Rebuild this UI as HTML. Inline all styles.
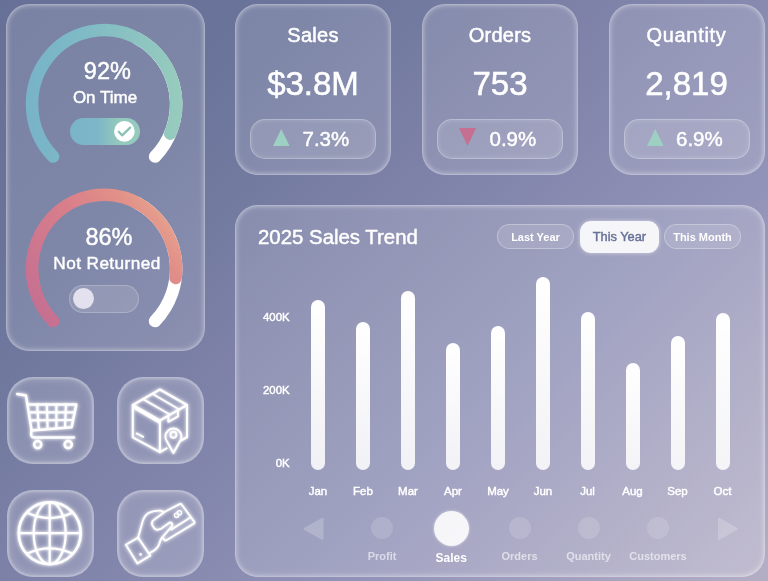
<!DOCTYPE html>
<html lang="en">
<head>
<meta charset="utf-8">
<title>Sales Dashboard</title>
<style>
*{box-sizing:border-box;margin:0;padding:0}
html,body{width:768px;height:581px;overflow:hidden}
body{position:relative;font-family:"Liberation Sans",sans-serif;color:#fff;-webkit-text-stroke-width:.3px;
 background:linear-gradient(135deg,#677096 0%,#6a749a 19%,#71799f 30%,#7d81a7 43%,#9293b8 70%,#b4aec5 100%);}
.glass{position:absolute;background:rgba(255,255,255,.13);border:1.5px solid rgba(255,255,255,.34);
 box-shadow:inset 0 0 4px rgba(255,255,255,.4),inset 0 0 9px rgba(255,255,255,.12);border-radius:23px}
.abs{position:absolute}
.c{text-align:center;white-space:nowrap;-webkit-text-stroke-width:.45px}
.tile{border-radius:26px;background:rgba(255,255,255,.16);box-shadow:inset 0 0 3px rgba(255,255,255,.5),inset 0 0 9px rgba(255,255,255,.3)}
.kt{-webkit-text-stroke-width:.5px;letter-spacing:.25px;position:absolute;left:0;width:100%;text-align:center;font-size:20px;top:18.3px;line-height:24px}
.kv{-webkit-text-stroke-width:.55px;position:absolute;left:0;width:100%;text-align:center;font-size:33px;top:59px;line-height:40px}
.pill{position:absolute;left:14px;top:113.5px;width:126px;height:40px;border-radius:15px;background:rgba(255,255,255,.12);
 border:1.5px solid rgba(255,255,255,.3);box-shadow:inset 0 0 5px rgba(255,255,255,.2)}
.pill span{-webkit-text-stroke-width:.45px;position:absolute;left:51.5px;top:7px;font-size:20.5px;line-height:24px}
.pill svg{position:absolute;left:21.5px;top:10px}
.btn{position:absolute;height:25px;top:224.3px;width:77px;border-radius:12.5px;border:1.5px solid rgba(255,255,255,.3);
 background:rgba(255,255,255,.12);font-size:11px;font-weight:bold;line-height:22px;padding-top:.8px;text-align:center;color:#fff;-webkit-text-stroke-width:0}
.btn.on{top:221px;height:32px;width:78.5px;border-radius:11px;background:rgba(255,255,255,.9);color:#687298;font-size:12.8px;font-weight:normal;line-height:32px;padding-top:.3px;border:none;
 box-shadow:0 0 4px rgba(255,255,255,.55);-webkit-text-stroke-width:.45px}
.bar{position:absolute;width:14px;border-radius:7px;background:linear-gradient(#fff,rgba(255,255,255,.86))}
.ax{-webkit-text-stroke-width:.45px;position:absolute;width:40px;left:249.6px;text-align:right;font-size:11.4px;line-height:14px}
.mo{-webkit-text-stroke-width:.45px;position:absolute;width:40px;text-align:center;font-size:11.5px;line-height:14px;top:484px}
.dot{position:absolute;width:22px;height:22px;border-radius:50%;top:517px;background:rgba(255,255,255,.14)}
.ico{filter:drop-shadow(0 0 1.5px rgba(255,255,255,.9)) drop-shadow(0 0 2.5px rgba(255,255,255,.35))}
.nl{-webkit-text-stroke-width:0;position:absolute;width:80px;text-align:center;font-size:11px;font-weight:bold;line-height:14px;top:549px;color:rgba(255,255,255,.6)}
</style>
</head>
<body>
<!-- left gauge panel -->
<div class="glass" style="left:6px;top:4px;width:198.5px;height:346.5px"></div>
<svg class="abs" style="left:0;top:0" width="210" height="355" viewBox="0 0 210 355">
 <defs>
  <linearGradient id="g1" x1="30" y1="0" x2="180" y2="0" gradientUnits="userSpaceOnUse">
   <stop offset="0" stop-color="#78b3c8"/><stop offset=".35" stop-color="#7fbac6"/><stop offset="1" stop-color="#97cbbd"/>
  </linearGradient>
  <linearGradient id="g2" x1="40" y1="320" x2="175" y2="210" gradientUnits="userSpaceOnUse">
   <stop offset="0" stop-color="#c56f92"/><stop offset=".55" stop-color="#d97f8a"/><stop offset=".8" stop-color="#e29088"/><stop offset="1" stop-color="#e8a890"/>
  </linearGradient>
 </defs>
 <g fill="none" stroke-width="12.5" stroke-linecap="round">
  <path stroke="#fff" d="M136.81 38.22A72.05 74.05 0 0 1 155.05 156.56"/>
  <path stroke="url(#g1)" d="M53.15 156.56A72.05 74.05 0 1 1 170.22 133.61"/>
  <path stroke="#fff" d="M136.81 202.72A72.05 74.05 0 0 1 155.05 321.06"/>
  <path stroke="url(#g2)" d="M53.15 321.06A72.05 74.05 0 1 1 175.58 277.98"/>
 </g>
</svg>
<div class="abs c" style="left:47.4px;width:120px;top:59px;font-size:23.5px;line-height:24px">92%</div>
<div class="abs c" style="left:45px;width:120px;top:88px;font-size:17px;line-height:20px">On Time</div>
<div class="abs" style="left:70px;top:118px;width:70px;height:27px;border-radius:13.5px;background:linear-gradient(90deg,#7ab4c8 0%,#7cb6c7 38%,#93c8bd 68%,#96cabd 100%)"></div>
<svg class="abs" style="left:113px;top:120px" width="23" height="23" viewBox="0 0 23 23"><circle cx="11.4" cy="11.4" r="10.3" fill="#fff"/><path d="M5.8 11.8l3.4 3.6 7.9-7.8" fill="none" stroke="#8bc1b8" stroke-width="2.3" stroke-linecap="round" stroke-linejoin="round"/></svg>

<div class="abs c" style="left:49px;width:120px;top:225px;font-size:23.5px;line-height:24px">86%</div>
<div class="abs c" style="left:37px;width:140px;top:252.5px;font-size:17.2px;letter-spacing:.43px;line-height:20px">Not Returned</div>
<div class="abs" style="left:69px;top:285px;width:70px;height:28px;border-radius:14px;background:rgba(255,255,255,.13);border:1.5px solid rgba(255,255,255,.22)"></div>
<div class="abs" style="left:73.4px;top:288.4px;width:20.8px;height:20.8px;border-radius:50%;background:#e3e1ed"></div>

<!-- icon tiles -->
<div class="glass tile" style="left:6.5px;top:376.5px;width:87px;height:87.5px"></div>
<div class="glass tile" style="left:117px;top:376.5px;width:87px;height:87.5px"></div>
<div class="glass tile" style="left:6.5px;top:489.5px;width:87px;height:87.5px"></div>
<div class="glass tile" style="left:117px;top:489.5px;width:87px;height:87.5px"></div>

<!-- icons -->
<svg class="abs ico" style="left:0;top:370px" width="210" height="211" viewBox="0 370 210 211">
 <g fill="none" stroke="#fff" stroke-width="2.1" stroke-linecap="round" stroke-linejoin="round">
  <!-- cart -->
  <path d="M17.2 394L26 395.6L31.6 430.4" stroke-width="2.5"/>
  <path d="M28 404.4H76.3L71.6 427.2L31.6 430.4Q29.8 437.4 34 437.4H74" stroke-width="2.5"/>
  <path d="M29.4 412.4L74.6 412.4M30.6 420.4L73 420" stroke-width="2.2"/>
  <path d="M37.2 404.4L38.8 429.6M46.8 404.4L47.6 429M56.4 404.4L56.4 428.4M66 404.4L65 427.6" stroke-width="2.2"/>
  <circle cx="37.7" cy="444.6" r="3.6" stroke-width="2.5"/><circle cx="68.2" cy="444.6" r="3.6" stroke-width="2.5"/>
  <!-- box -->
  <path d="M180.8 440.6L187 437.3V405L159.9 389.5L132.8 405V437.3L159.9 452.1L166.6 448.4"/>
  <path d="M132.8 405L159.9 420.5L187 405M159.9 420.5V452.1M134.4 408.2L159.9 422.8" />
  <path d="M143.1 399.1L170.2 414.7M152.8 394L179.3 409.5" stroke-width="1.9"/>
  <path d="M168.3 416V421.8L178 416.4V410.4" stroke-width="1.9"/>
  <path d="M136.6 433.4L143.1 436.8" stroke-width="1.9"/>
  <path d="M173.4 453L167 441.4A8 8 0 1 1 179.8 441.4z" stroke-width="2"/>
  <circle cx="173.4" cy="434.8" r="3" stroke-width="1.9"/>
  <!-- globe -->
  <circle cx="49.7" cy="533.2" r="31" stroke-width="2.6"/>
  <path d="M49.7 502.2V564.2M18.7 533.2H80.7" stroke-width="2.2"/>
  <ellipse cx="49.7" cy="533.2" rx="16" ry="31" stroke-width="2.2"/>
  <path d="M26.6 512.6Q49.7 523.6 72.8 512.6M26.6 553.8Q49.7 542.8 72.8 553.8" stroke-width="2.2"/>
  <!-- hand + card -->
  <path d="M164.3 512L179.6 504.2Q181 503.6 182 505L194.2 521.6Q195 522.8 193.8 523.6L166.4 540.2Q165 541 164.2 539.8L163 538" stroke-width="1.9"/>
  <path d="M189.6 518L171.2 529.6" stroke-width="1.9"/>
  <circle cx="179.4" cy="512.8" r="2.2" stroke-width="1.2"/><circle cx="176.6" cy="515.2" r="2.2" stroke-width="1.2"/>
  <path d="M125.8 544.7L138.1 537.6L150.3 555.6L137.4 563.4z" stroke-width="1.9"/>
  <path d="M138.1 537.6L142.6 521.6Q144.4 514.8 150 512.4Q155.4 510.2 161 510.8L164.3 512.2L154 519.8Q150.6 522.4 152.6 525.8L154.4 528.4Q155.8 530.2 158.2 529.6L161.4 528.6L168.4 523.4Q170.8 521.8 172 523.4Q173 524.8 171.6 526.6L161.8 537.8Q160.4 540 159.4 543.4Q157.6 549.4 149.6 553" stroke-width="1.9"/>
  <circle cx="140.6" cy="554.4" r="0.8" stroke-width="1.3"/>
 </g>
</svg>

<!-- KPI cards -->
<div class="glass" style="left:235px;top:4px;width:156px;height:170.5px">
 <div class="kt">Sales</div><div class="kv">$3.8M</div>
 <div class="pill"><svg style="left:22.2px;top:9.8px" width="17" height="18" viewBox="0 0 17 18"><path d="M8.3 0L16.6 17H0z" fill="#9dd0c2"/></svg><span>7.3%</span></div>
</div>
<div class="glass" style="left:422px;top:4px;width:156px;height:170.5px">
 <div class="kt">Orders</div><div class="kv">753</div>
 <div class="pill"><svg style="left:21.3px;top:8.9px" width="18" height="18" viewBox="0 0 18 18"><path d="M8.55 18L17.1 0H0z" fill="#c57092"/></svg><span>0.9%</span></div>
</div>
<div class="glass" style="left:608.5px;top:4px;width:156px;height:170.5px">
 <div class="kt" style="letter-spacing:.7px">Quantity</div><div class="kv">2,819</div>
 <div class="pill"><svg style="left:22.2px;top:9.8px" width="17" height="18" viewBox="0 0 17 18"><path d="M8.3 0L16.6 17H0z" fill="#9dd0c2"/></svg><span>6.9%</span></div>
</div>

<!-- chart -->
<div class="glass" style="left:235px;top:205px;width:529.5px;height:372.3px;background:linear-gradient(135deg,rgba(255,255,255,.14),rgba(255,255,255,.19))"></div>
<div class="abs" style="left:258px;top:225.4px;font-size:20.4px;line-height:24px;white-space:nowrap;-webkit-text-stroke-width:.45px">2025 Sales Trend</div>
<div class="btn" style="left:497px">Last Year</div>
<div class="btn on" style="left:580.2px">This Year</div>
<div class="btn" style="left:664px">This Month</div>

<div class="ax" style="top:310px">400K</div>
<div class="ax" style="top:383px">200K</div>
<div class="ax" style="top:456px">0K</div>

<div class="bar" style="left:311px;top:300px;height:169.5px"></div>
<div class="bar" style="left:356px;top:321.5px;height:148px"></div>
<div class="bar" style="left:401px;top:291px;height:178.5px"></div>
<div class="bar" style="left:446px;top:343px;height:126.5px"></div>
<div class="bar" style="left:491px;top:326px;height:143.5px"></div>
<div class="bar" style="left:536px;top:277px;height:192.5px"></div>
<div class="bar" style="left:580.5px;top:312px;height:157.5px"></div>
<div class="bar" style="left:625.5px;top:363px;height:106.5px"></div>
<div class="bar" style="left:670.5px;top:336px;height:133.5px"></div>
<div class="bar" style="left:715.5px;top:313px;height:156.5px"></div>

<div class="mo" style="left:298px">Jan</div>
<div class="mo" style="left:343px">Feb</div>
<div class="mo" style="left:388px">Mar</div>
<div class="mo" style="left:433px">Apr</div>
<div class="mo" style="left:478px">May</div>
<div class="mo" style="left:523px">Jun</div>
<div class="mo" style="left:567.5px">Jul</div>
<div class="mo" style="left:612.5px">Aug</div>
<div class="mo" style="left:657.5px">Sep</div>
<div class="mo" style="left:702.5px">Oct</div>

<svg class="abs" style="left:300px;top:514px;opacity:.2" width="30" height="30" viewBox="0 0 30 30"><path d="M4.5 14.8L22.5 4.8v20z" fill="#fff" stroke="#fff" stroke-width="2" stroke-linejoin="round"/></svg>
<svg class="abs" style="left:712px;top:514px;opacity:.2" width="30" height="30" viewBox="0 0 30 30"><path d="M24.9 14.8L7 4.8v20z" fill="#fff" stroke="#fff" stroke-width="2" stroke-linejoin="round"/></svg>
<div class="dot" style="left:371px"></div>
<div class="abs" style="left:434px;top:510.5px;width:35px;height:35px;border-radius:50%;background:rgba(255,255,255,.9);box-shadow:0 0 3px rgba(255,255,255,.6)"></div>
<div class="dot" style="left:508.5px"></div>
<div class="dot" style="left:577.5px"></div>
<div class="dot" style="left:647px"></div>
<div class="nl" style="left:342px">Profit</div>
<div class="nl" style="left:411.2px;color:#fff;font-size:12px;top:551.3px">Sales</div>
<div class="nl" style="left:479.5px">Orders</div>
<div class="nl" style="left:548.5px">Quantity</div>
<div class="nl" style="left:618px">Customers</div>

</body>
</html>
